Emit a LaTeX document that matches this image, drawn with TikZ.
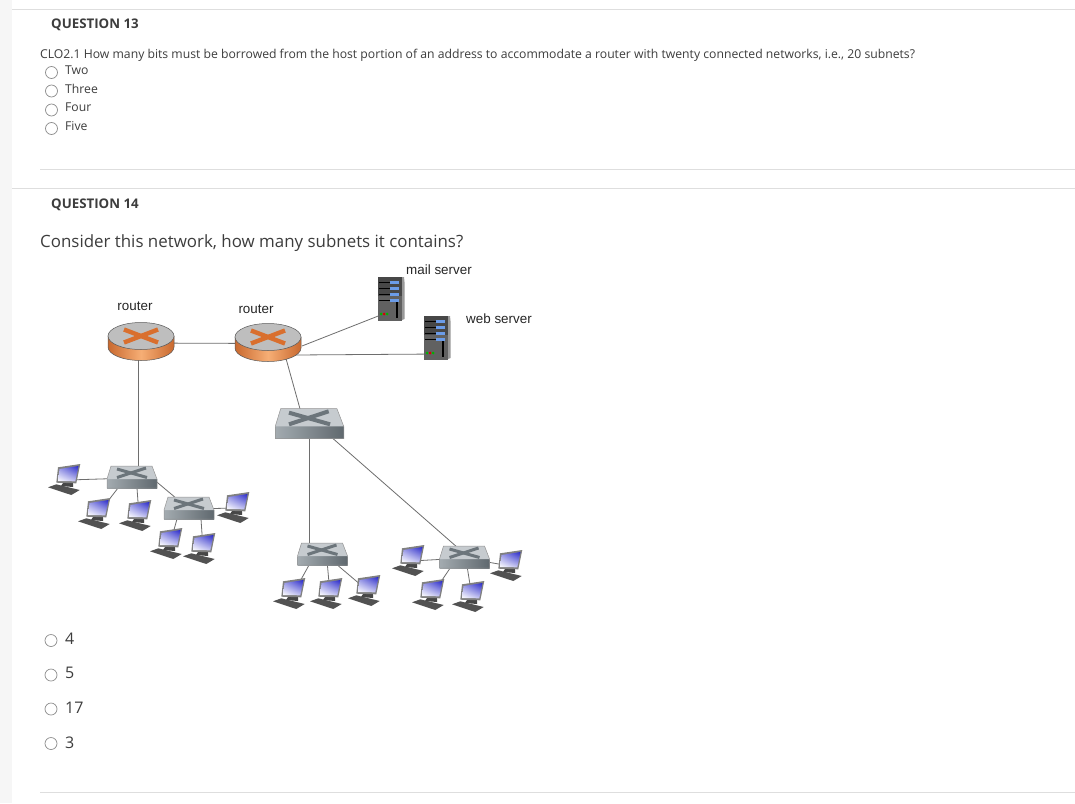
\documentclass[tikz,border=0pt]{standalone}
\usepackage{fontspec}
\setmainfont{Open Sans}
\newfontfamily\labelfont{Liberation Sans}
\usetikzlibrary{calc,shadings}

\definecolor{pagetext}{HTML}{3D3D3D}
\definecolor{rulegray}{HTML}{DEDEDE}
\definecolor{stripgray}{HTML}{F6F6F6}
\definecolor{wiregray}{HTML}{6E6E6E}
\definecolor{routerorange}{HTML}{D96F2E}
\definecolor{routerdark}{HTML}{C9692F}
\definecolor{routerlight}{HTML}{F6AE75}
\definecolor{routertop}{HTML}{BEBEBE}
\definecolor{screenblue}{HTML}{2A2AC8}
\definecolor{screenmid}{HTML}{9090E4}
\definecolor{switchtop}{HTML}{C6CBCF}
\definecolor{switchleft}{HTML}{A3ABB0}
\definecolor{switchright}{HTML}{5F686E}
\definecolor{switchmark}{HTML}{6C757B}
\definecolor{slotblue}{HTML}{6B9CE8}

\tikzset{
  qhead/.style={anchor=west,inner sep=0pt,text=pagetext,font=\fontsize{13.3}{15}\selectfont\bfseries},
  qtext/.style={anchor=west,inner sep=0pt,text=pagetext,font=\fontsize{12.2}{14}\selectfont},
  qbig/.style={anchor=west,inner sep=0pt,text=pagetext,font=\fontsize{16.9}{22}\selectfont},
  qanswer/.style={anchor=west,inner sep=0pt,text=pagetext,font=\fontsize{16}{20}\selectfont},
  netlabel/.style={inner sep=0pt,text=black!85,font=\labelfont\fontsize{13.4}{15}\selectfont},
  radio/.style={circle,draw=black!45,fill=white,line width=.7pt,minimum size=12pt,inner sep=0pt},
  rulerline/.style={draw=rulegray,line width=.9pt},
  wire/.style={draw=wiregray,line width=.8pt},
  pics/routerpic/.style={code={
    \shade[left color=routerdark,right color=routerdark,middle color=routerlight,draw=black!65,line width=.5pt]
      (-33,0) -- (-33,11) arc[start angle=180,end angle=360,x radius=33pt,y radius=13.5pt] -- (33,0) -- cycle;
    \draw[fill=routertop,draw=black!65,line width=.5pt] (0,0) ellipse[x radius=33pt,y radius=13.5pt];
    \draw[routerorange,line width=4.4pt] (-17,-6.5) -- (17,6.5);
    \draw[routerorange,line width=4.4pt] (17,-6.5) -- (-17,6.5);
  }},
  pics/switchpic/.default=3,
  pics/switchpic/.style={code={
    \shade[left color=switchleft,right color=switchright] (-25,1) -- (25,1) -- (25,10) -- (-25,10) -- cycle;
    \fill[switchtop] (-21,-12) -- (20,-12) -- (25,1) -- (-25,1) -- cycle;
    \draw[black!42,line width=.5pt] (-21,-12) -- (20,-12) -- (25,1) -- (25,10) -- (-25,10) -- (-25,1) -- cycle;
    \draw[switchmark,line width=#1pt] (-15,-9) -- (15,-.5);
    \draw[switchmark,line width=#1pt] (14,-10) -- (-15,-.5);
  }},
  pics/hostpic/.style={code={
    % keyboard and foot
    \fill[black!68] (-20,7.3) -- (-11.7,4.3) -- (11.7,10) -- (3.3,15) -- cycle;
    \fill[black!72] (-5,3) -- (5,3) -- (5,7) -- (-7,6) -- cycle;
    % monitor
    \fill[black!50] (-10,-12.7) -- (12.3,-16) -- (8.3,3.3) -- (-11.7,2.7) -- cycle;
    \shade[upper left=screenmid,upper right=screenblue,lower left=white,lower right=screenmid!60]
      (-8.5,-11) -- (10.5,-14) -- (7.3,1.3) -- (-10,1) -- cycle;
  }},
  pics/serverpic/.style={code={
    \fill[black!40] (11,-22) -- (13,-22) -- (13.5,-17) -- (13.5,20) -- (11,21) -- cycle;
    \fill[black!72] (-13,-22) -- (11,-22) -- (11,22) -- (-13,22) -- cycle;
    \fill[black!62] (-13,-3) -- (11,-3) -- (11,22) -- (-13,22) -- cycle;
    \fill[black] (-12,-17.5) -- (8,-17.5) -- (8,-16) -- (-12,-16) -- cycle;
    \fill[black] (-12,-11.5) -- (8,-11.5) -- (8,-10) -- (-12,-10) -- cycle;
    \fill[black] (-12,-5.5) -- (8,-5.5) -- (8,-4) -- (-12,-4) -- cycle;
    \fill[black] (-12,.5) -- (8,.5) -- (8,2) -- (-12,2) -- cycle;
    \fill[slotblue] (-1.5,-18) -- (8,-18) -- (8,-15.5) -- (-1.5,-15.5) -- cycle;
    \fill[slotblue] (-1.5,-12) -- (8,-12) -- (8,-9.5) -- (-1.5,-9.5) -- cycle;
    \fill[slotblue] (-1.5,-6) -- (8,-6) -- (8,-3.5) -- (-1.5,-3.5) -- cycle;
    \fill[slotblue] (-1.5,0) -- (8,0) -- (8,2.5) -- (-1.5,2.5) -- cycle;
    \fill[black] (4.5,3) -- (7,3) -- (7,19) -- (4.5,19) -- cycle;
    \fill[green!70!black] (-10,15) circle[radius=1.5pt];
    \fill[red!85!black] (-7,15) circle[radius=1.5pt];
    \fill[green!70!black] (-4,15) circle[radius=1.5pt];
  }}
}

\begin{document}
\begin{tikzpicture}[x=1pt,y=-1pt]
\useasboundingbox (0,0) rectangle (1075,803);
\fill[white] (0,0) rectangle (1075,803);
\fill[stripgray] (0,0) rectangle (12,803);

% page rules
\coordinate (ruleAa) at (12,9);
\coordinate (ruleAb) at (1075,9);
\coordinate (ruleBa) at (40,169);
\coordinate (ruleBb) at (1075,169);
\coordinate (ruleCa) at (12,188);
\coordinate (ruleCb) at (1075,188);
\coordinate (ruleDa) at (40,792);
\coordinate (ruleDb) at (1075,792);
\draw[rulerline] (ruleAa) -- (ruleAb);
\draw[rulerline] (ruleBa) -- (ruleBb);
\draw[rulerline] (ruleCa) -- (ruleCb);
\draw[rulerline] (ruleDa) -- (ruleDb);

% question 13
\node[qhead] (headA) at (51,25) {QUESTION 13};
\node[qtext] (askA) at (40,55) {CLO2.1 How many bits must be borrowed from the host portion of an address to accommodate a router with twenty connected networks, i.e., 20 subnets?};
\node[radio] (radA) at (51.5,72.5) {};
\node[radio] (radB) at (51.5,91) {};
\node[radio] (radC) at (51.5,110) {};
\node[radio] (radD) at (51.5,128.5) {};
\node[qtext] (optA) at (65,70) {Two};
\node[qtext] (optB) at (65,88.5) {Three};
\node[qtext] (optC) at (65,107.5) {Four};
\node[qtext] (optD) at (65,126) {Five};

% question 14
\node[qhead] (headB) at (51,205) {QUESTION 14};
\node[qbig] (askB) at (40,243) {Consider this network, how many subnets it contains?};
\node[radio] (ansA) at (51,640.5) {};
\node[radio] (ansB) at (51,675) {};
\node[radio] (ansC) at (51,709) {};
\node[radio] (ansD) at (51,743.5) {};
\node[qanswer] (txtA) at (65,639) {4};
\node[qanswer] (txtB) at (65,673) {5};
\node[qanswer] (txtC) at (65,708) {17};
\node[qanswer] (txtD) at (65,742.5) {3};

% network devices
\coordinate (routerA) at (141,336);
\coordinate (routerB) at (268,337);
\coordinate (mail) at (391,299);
\coordinate (web) at (437,338);
\coordinate (swBig) at (309.5,425);
\coordinate (swA) at (132,478);
\coordinate (swB) at (189,509);
\coordinate (swC) at (322.5,555);
\coordinate (swD) at (464.5,558);
\coordinate (hostA) at (68,480);
\coordinate (hostB) at (98,514);
\coordinate (hostC) at (139,516);
\coordinate (hostD) at (237,508);
\coordinate (hostE) at (170,544);
\coordinate (hostF) at (203,549);
\coordinate (hostG) at (293,594);
\coordinate (hostH) at (330,594);
\coordinate (hostI) at (368,591);
\coordinate (hostJ) at (412,561);
\coordinate (hostK) at (432,595);
\coordinate (hostL) at (472,597);
\coordinate (hostM) at (510,566);

% links
\draw[wire] ($(routerA)+(0,7)$) -- ($(routerB)+(0,6.5)$);
\draw[wire] ($(routerA)+(-3,0)$) -- ($(swA)+(6,0)$);
\draw[wire] ($(routerB)+(12,0)$) -- ($(swBig)+(-5,0)$);
\draw[wire] ($(routerB)+(34,9)$) -- ($(mail)+(0,12)$);
\draw[wire] ($(routerB)+(27,18)$) -- ($(web)+(0,16)$);
\draw[wire] (swBig) -- ($(swC)+(-13,0)$);
\draw[wire] ($(swBig)+(8,0)$) -- ($(swD)+(5,0)$);
\draw[wire] ($(swA)+(20,0)$) -- (swB);
\draw[wire] (swA) -- (hostA);
\draw[wire] ($(swA)+(-14,10)$) -- (hostB);
\draw[wire] ($(swA)+(5,10)$) -- (hostC);
\draw[wire] (swB) -- (hostD);
\draw[wire] ($(swB)+(-12,10)$) -- (hostE);
\draw[wire] ($(swB)+(12,10)$) -- (hostF);
\draw[wire] ($(swC)+(-14,11)$) -- (hostG);
\draw[wire] ($(swC)+(5,11)$) -- (hostH);
\draw[wire] ($(swC)+(16,11)$) -- (hostI);
\draw[wire] (swD) -- (hostJ);
\draw[wire] ($(swD)+(-15,11)$) -- (hostK);
\draw[wire] ($(swD)+(3,11)$) -- (hostL);
\draw[wire] (swD) -- (hostM);

\pic at (routerA) {routerpic};
\pic at (routerB) {routerpic};
\pic at (mail) {serverpic};
\pic at (web) {serverpic};
\pic[scale=1.37] at (swBig) {switchpic=4};
\pic at (swA) {switchpic};
\pic at (swB) {switchpic};
\pic at (swC) {switchpic};
\pic at (swD) {switchpic};
\pic at (hostA) {hostpic};
\pic at (hostB) {hostpic};
\pic at (hostC) {hostpic};
\pic at (hostD) {hostpic};
\pic at (hostE) {hostpic};
\pic at (hostF) {hostpic};
\pic at (hostG) {hostpic};
\pic at (hostH) {hostpic};
\pic at (hostI) {hostpic};
\pic at (hostJ) {hostpic};
\pic at (hostK) {hostpic};
\pic at (hostL) {hostpic};
\pic at (hostM) {hostpic};

\node[netlabel] (labA) at (135,306.5) {router};
\node[netlabel] (labB) at (256,309.5) {router};
\node[netlabel] (labC) at (439,269.5) {mail server};
\node[netlabel] (labD) at (499,319) {web server};
\end{tikzpicture}
\end{document}
